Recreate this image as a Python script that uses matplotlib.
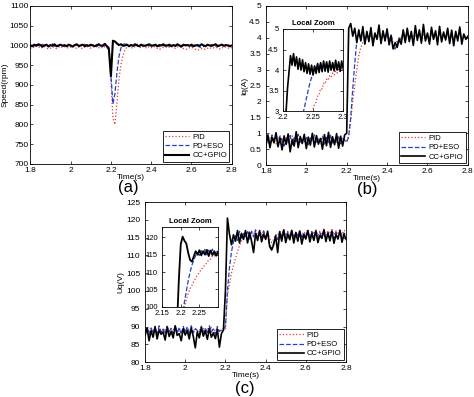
import numpy as np
import matplotlib
matplotlib.use('Agg')
import matplotlib.pyplot as plt
from matplotlib.ticker import FormatStrFormatter

plt.rcParams['font.family'] = ['Liberation Sans', 'DejaVu Sans']

# time grid of the main plots (s)
t = np.round(np.linspace(1.8, 2.8, 101), 2)

# (a) speed (rpm)
speed_pid = [994, 992, 996, 1000, 997, 993, 995, 998, 994, 991,
             993, 997, 995, 992, 996, 998, 994, 997, 995, 993,
             996, 999, 995, 993, 997, 994, 992, 996, 998, 995,
             993, 997, 995, 998, 994, 996, 993, 997, 995, 992,
             910, 815, 800, 855, 915, 952, 976, 989, 996, 998,
             995, 993, 997, 1000, 996, 994, 998, 995, 993, 997,
             994, 998, 996, 993, 990, 992, 995, 997, 994, 996,
             998, 995, 993, 997, 994, 996, 992, 990, 991, 994,
             996, 993, 990, 988, 989, 992, 991, 990, 993, 995,
             992, 994, 996, 993, 991, 995, 993, 996, 994, 992, 995]
speed_eso = [999, 1001, 997, 1002, 1000, 998, 1003, 999, 1001, 996,
             1000, 1004, 998, 1001, 997, 1003, 1000, 998, 1002, 999,
             1001, 998, 1000, 1002, 996, 1001, 999, 1003, 998, 1000,
             999, 1002, 1000, 997, 1001, 1000, 998, 1002, 999, 996,
             925, 852, 878, 932, 972, 994, 1003, 1004, 1001, 999,
             1002, 998, 1000, 1003, 999, 1001, 997, 1000, 1002, 998,
             1001, 999, 1003, 1000, 997, 1001, 999, 1002, 1000, 998,
             1000, 1003, 998, 1001, 1000, 996, 999, 1002, 1000, 1001,
             998, 1000, 1002, 999, 996, 995, 997, 1000, 1001, 999,
             1002, 1000, 998, 1001, 999, 1003, 1000, 998, 1001, 1000, 999]
speed_gpio = [1000, 998, 1002, 999, 1003, 1001, 997, 1000, 1002, 998,
              1001, 999, 1003, 998, 1000, 1002, 999, 1001, 998, 1002,
              1000, 997, 1001, 1003, 999, 1000, 1002, 998, 1001, 999,
              1002, 1000, 998, 1001, 1003, 999, 1000, 1004, 998, 990,
              922, 1012, 1010, 1005, 1001, 1003, 999, 1000, 1002, 998,
              1001, 999, 1003, 1000, 998, 1002, 1000, 999, 1001, 1003,
              999, 1000, 1002, 998, 1001, 1000, 1003, 999, 1000, 1002,
              998, 1001, 999, 1003, 1000, 998, 1002, 1000, 1001, 999,
              1002, 998, 1000, 1001, 999, 1003, 1000, 998, 1002, 1000,
              999, 1001, 1003, 998, 1000, 1002, 999, 1001, 1000, 998, 1000]

# (b) Iq (A)
iq_pid = [0.75, 0.68, 0.88, 0.72, 0.80, 0.66, 0.90, 0.74, 0.83, 0.70,
          0.86, 0.71, 0.79, 0.92, 0.68, 0.84, 0.73, 0.88, 0.76, 0.81,
          0.69, 0.87, 0.74, 0.82, 0.70, 0.91, 0.77, 0.80, 0.72, 0.85,
          0.78, 0.70, 0.89, 0.75, 0.83, 0.71, 0.86, 0.79, 0.74, 0.82,
          0.76, 0.90, 1.40, 2.00, 2.50, 3.00, 3.45, 3.70, 3.85, 3.95,
          4.02, 3.95, 4.10, 3.92, 4.15, 3.98, 4.08, 3.90, 4.12, 4.00,
          4.05, 3.93, 4.10, 3.85, 3.80, 3.90, 4.02, 3.96, 4.10, 3.94,
          4.08, 3.98, 4.12, 3.92, 4.06, 4.00, 4.14, 3.95, 4.10, 3.97,
          4.04, 3.93, 4.12, 3.98, 4.08, 3.94, 4.10, 3.96, 4.05, 4.00,
          4.10, 3.95, 4.06, 3.92, 4.08, 3.98, 4.12, 3.94, 4.04, 4.00, 4.02]
iq_eso = [0.70, 0.85, 0.62, 0.95, 0.75, 0.88, 0.66, 0.92, 0.78, 0.60,
          0.82, 0.70, 0.93, 0.65, 0.86, 0.74, 0.97, 0.68, 0.80, 0.72,
          0.90, 0.64, 0.85, 0.77, 0.95, 0.69, 0.83, 0.75, 0.91, 0.66,
          0.87, 0.73, 0.94, 0.70, 0.82, 0.76, 0.89, 0.67, 0.84, 0.78,
          0.72, 0.90, 1.50, 2.40, 3.20, 3.90, 4.10, 3.95, 4.20, 3.88,
          4.15, 3.92, 4.25, 3.85, 4.10, 4.00, 4.30, 3.90, 4.18, 3.95,
          4.22, 3.88, 4.12, 3.70, 3.65, 3.80, 4.00, 3.92, 4.20, 3.90,
          4.25, 3.95, 4.15, 3.85, 4.28, 3.97, 4.18, 3.90, 4.30, 3.93,
          4.12, 3.88, 4.26, 3.98, 4.16, 3.86, 4.28, 3.92, 4.14, 3.97,
          4.22, 3.90, 4.18, 3.84, 4.15, 3.95, 4.26, 3.88, 4.10, 3.98, 4.02]
iq_gpio = [0.62, 0.95, 0.55, 0.88, 0.70, 1.02, 0.58, 0.85, 0.48, 0.92,
           0.65, 0.98, 0.42, 0.80, 0.60, 1.05, 0.55, 0.90, 0.68, 0.97,
           0.52, 0.88, 0.63, 1.00, 0.57, 0.93, 0.66, 0.84, 0.50, 0.96,
           0.61, 1.03, 0.56, 0.89, 0.64, 0.99, 0.53, 0.91, 0.60, 0.95,
           1.00, 4.30, 4.45, 4.05, 4.30, 3.85, 4.25, 3.90, 4.35, 3.80,
           4.20, 3.88, 4.32, 3.75, 4.15, 3.95, 4.40, 3.82, 4.22, 3.90,
           4.28, 3.78, 4.05, 3.65, 3.85, 3.70, 3.95, 3.80, 4.25, 3.85,
           4.30, 3.88, 4.20, 3.76, 4.38, 3.92, 4.25, 3.83, 4.42, 3.90,
           4.15, 3.80, 4.33, 3.95, 4.22, 3.78, 4.36, 3.87, 4.18, 3.93,
           4.30, 3.82, 4.24, 3.75, 4.20, 3.90, 4.34, 3.80, 4.12, 3.95, 4.05]

# (b) local zoom, 2.2 .. 2.3 s
tb_zoom = np.linspace(2.2, 2.3, 41)
iqz_pid = [0.76, 0.80, 0.90, 1.05, 1.20, 1.38, 1.55, 1.70, 1.85, 2.00,
           2.13, 2.26, 2.38, 2.49, 2.58, 2.67, 2.75, 2.83, 2.90, 2.97,
           3.05, 3.18, 3.22, 3.38, 3.40, 3.55, 3.54, 3.68, 3.66, 3.78,
           3.75, 3.86, 3.82, 3.93, 3.88, 3.98, 3.93, 4.03, 3.97, 4.06, 4.00]
iqz_eso = [0.75, 0.80, 0.90, 1.05, 1.25, 1.50, 1.75, 2.00, 2.20, 2.40,
           2.55, 2.70, 2.82, 2.93, 3.05, 3.22, 3.38, 3.55, 3.70, 3.82,
           3.93, 4.10, 3.95, 4.15, 3.98, 4.18, 4.00, 4.16, 3.97, 4.20,
           4.02, 4.15, 3.98, 4.18, 4.00, 4.12, 3.99, 4.16, 4.02, 4.10, 4.04]
iqz_gpio = [1.20, 2.20, 2.95, 3.55, 3.95, 4.35, 4.12, 4.40, 4.10, 4.32,
            4.02, 4.28, 4.00, 4.25, 3.96, 4.18, 3.92, 4.15, 3.90, 4.12,
            3.88, 4.10, 3.92, 4.16, 3.94, 4.18, 3.96, 4.22, 3.98, 4.20,
            3.95, 4.22, 4.00, 4.18, 3.98, 4.24, 4.00, 4.20, 3.97, 4.22, 4.05]

# (c) Uq (V)
uq_pid = [88.0, 89.2, 88.6, 89.8, 87.9, 89.0, 88.4, 89.6, 88.1, 89.4,
          88.7, 89.9, 88.3, 89.1, 88.8, 89.7, 88.2, 89.5, 88.6, 89.0,
          88.4, 89.8, 88.9, 89.3, 88.0, 89.6, 88.5, 89.2, 88.8, 89.7,
          88.3, 89.5, 88.7, 89.9, 88.2, 89.4, 88.6, 89.1, 88.9, 89.3,
          89.0, 99.0, 102.0, 105.0, 107.2, 109.2, 111.0, 112.8, 114.0, 115.2,
          115.6, 116.8, 115.2, 116.4, 115.8, 117.0, 115.4, 116.6, 115.9, 116.9,
          115.3, 116.5, 114.8, 113.6, 114.5, 115.9, 115.5, 116.7, 115.8, 117.2,
          115.6, 116.8, 115.4, 117.0, 115.7, 116.5, 115.9, 117.1, 115.5, 116.7,
          115.8, 117.3, 115.4, 116.9, 116.0, 117.2, 115.6, 116.8, 115.9, 117.4,
          115.7, 117.0, 116.1, 117.3, 115.8, 116.9, 116.2, 117.5, 115.9, 117.1, 116.4]
uq_eso = [88.5, 90.0, 87.8, 89.6, 88.2, 89.8, 87.5, 90.2, 88.4, 89.3,
          87.9, 90.1, 88.6, 89.5, 88.0, 90.3, 88.2, 89.7, 87.8, 90.0,
          88.5, 89.9, 87.7, 90.2, 88.3, 89.4, 88.9, 87.9, 90.1, 88.4,
          89.6, 88.0, 90.2, 88.5, 89.3, 87.9, 90.0, 88.6, 89.1, 89.5,
          90.0, 100.0, 106.5, 111.0, 113.8, 115.5, 114.2, 116.8, 114.5, 116.5,
          115.0, 117.0, 114.6, 116.8, 115.2, 117.2, 114.4, 116.6, 115.0, 116.9,
          114.8, 116.2, 113.0, 112.0, 113.5, 115.6, 114.5, 116.8, 115.2, 117.0,
          114.9, 116.6, 115.0, 117.1, 114.6, 116.5, 115.3, 116.9, 114.7, 116.4,
          115.1, 117.0, 114.5, 116.7, 115.4, 116.8, 114.6, 116.4, 115.0, 117.2,
          114.8, 116.5, 115.2, 116.9, 114.7, 116.6, 115.0, 117.0, 114.9, 116.3, 115.5]
uq_gpio = [87.5, 89.5, 86.0, 88.8, 87.0, 90.0, 86.5, 89.0, 87.8, 88.5,
           86.2, 89.8, 87.2, 88.6, 86.8, 90.2, 87.5, 88.0, 86.0, 89.4,
           87.6, 88.9, 86.5, 89.6, 87.2, 84.0, 88.5, 86.8, 89.7, 87.3,
           88.8, 86.4, 89.5, 87.0, 88.2, 86.6, 89.2, 84.2, 88.0, 89.0,
           100.0, 120.5, 116.0, 113.0, 115.8, 114.0, 117.0, 113.5, 116.2, 114.5,
           117.0, 113.5, 116.5, 114.0, 110.8, 116.2, 114.2, 117.0, 113.8, 116.0,
           114.5, 116.8, 112.5, 111.5, 113.0, 115.5, 110.8, 116.6, 114.0, 117.2,
           113.6, 116.0, 114.4, 117.0, 113.5, 116.4, 114.0, 116.8, 113.2, 115.8,
           114.6, 117.0, 113.8, 116.2, 114.2, 116.9, 113.6, 115.6, 114.8, 117.1,
           113.9, 116.3, 114.1, 116.8, 113.4, 115.9, 114.6, 117.0, 113.7, 116.0, 114.5]

# (c) local zoom, 2.15 .. 2.3 s
tc_zoom = np.linspace(2.15, 2.3, 31)
uqz_pid = [88.2, 89.4, 88.6, 89.9, 88.1, 89.3, 88.7, 89.6, 88.9, 89.2,
           91.0, 96.0, 100.0, 102.0, 103.8, 105.2, 106.2, 107.4, 108.2, 109.3,
           109.8, 110.9, 111.2, 112.3, 112.5, 113.6, 113.7, 114.7, 114.6, 115.5, 115.2]
uqz_eso = [89.0, 89.8, 88.5, 90.0, 88.8, 89.6, 88.9, 90.1, 89.5, 89.8,
           92.0, 97.5, 101.5, 104.5, 107.5, 110.0, 112.0, 113.5, 114.8, 115.5,
           114.8, 116.2, 115.2, 116.5, 115.0, 116.3, 115.4, 116.6, 115.1, 116.2, 115.5]
uqz_gpio = [88.0, 89.2, 87.5, 88.8, 84.5, 89.0, 87.6, 88.5, 95.0, 108.0,
            118.0, 120.2, 119.0, 118.2, 115.5, 113.5, 113.0, 114.5, 116.0, 115.0,
            116.3, 114.8, 116.0, 115.0, 116.4, 114.6, 116.2, 114.9, 116.0, 114.7, 115.8]

RED = '#e23a3a'
BLUE = '#2343c4'
labels = ['PID', 'PD+ESO', 'CC+GPIO']


def draw(ax, x, pid, eso, gpio, lw_k=1.2):
    ax.plot(x, pid, color=RED, ls=':', lw=0.9, label=labels[0])
    ax.plot(x, eso, color=BLUE, ls='--', lw=0.9, label=labels[1])
    ax.plot(x, gpio, color='black', ls='-', lw=lw_k, label=labels[2])


def style(ax, xlim, ylim, xticks, yticks, fs=6, ypad=3.5, xpad=2):
    ax.set_xlim(xlim)
    ax.set_ylim(ylim)
    ax.set_xticks(xticks)
    ax.set_yticks(yticks)
    ax.xaxis.set_major_formatter(FormatStrFormatter('%g'))
    ax.yaxis.set_major_formatter(FormatStrFormatter('%g'))
    ax.tick_params(direction='in', labelsize=fs, length=2, width=0.5,
                   top=True, right=True)
    ax.tick_params(axis='x', pad=xpad)
    ax.tick_params(axis='y', pad=ypad)
    for s in ax.spines.values():
        s.set_linewidth(0.6)


def legend(ax):
    lg = ax.legend(loc='lower right', fontsize=5.5, handlelength=3.2, fancybox=False,
                   edgecolor='black', framealpha=1, borderpad=0.3, labelspacing=0.25,
                   handletextpad=0.4, borderaxespad=0.3)
    lg.get_frame().set_linewidth(0.6)


main_xt = [1.8, 2.0, 2.2, 2.4, 2.6, 2.8]

fig = plt.figure(figsize=(4.74, 3.97), dpi=100)

# (a)
ax1 = fig.add_axes([0.064, 0.587, 0.425, 0.398])
draw(ax1, t, speed_pid, speed_eso, speed_gpio, lw_k=1.5)
style(ax1, (1.8, 2.8), (700, 1100), main_xt, np.arange(700, 1101, 50), ypad=1.5)
ax1.set_xlabel('Time(s)', fontsize=6, labelpad=0)
ax1.set_ylabel('Speed(rpm)', fontsize=6, labelpad=0.5)
legend(ax1)
fig.text(0.27, 0.528, '(a)', fontsize=12, ha='center', va='center')

# (b)
ax2 = fig.add_axes([0.561, 0.584, 0.426, 0.401])
draw(ax2, t, iq_pid, iq_eso, iq_gpio)
style(ax2, (1.8, 2.8), (0, 5), main_xt, np.arange(0, 5.01, 0.5))
ax2.set_xlabel('Time(s)', fontsize=6, labelpad=0)
ax2.set_ylabel('Iq(A)', fontsize=6, labelpad=1)
legend(ax2)
fig.text(0.774, 0.522, '(b)', fontsize=12, ha='center', va='center')

axb = fig.add_axes([0.597, 0.720, 0.127, 0.207])
draw(axb, tb_zoom, iqz_pid, iqz_eso, iqz_gpio)
style(axb, (2.2, 2.3), (3, 5), [2.2, 2.25, 2.3], [3, 3.5, 4, 4.5, 5], fs=5.5, ypad=3)
axb.set_title('Local Zoom', fontsize=5.5, fontweight='bold', pad=3)

# (c)
ax3 = fig.add_axes([0.306, 0.088, 0.424, 0.403])
draw(ax3, t, uq_pid, uq_eso, uq_gpio)
style(ax3, (1.8, 2.8), (80, 125), main_xt, np.arange(80, 126, 5))
ax3.set_xlabel('Time(s)', fontsize=6, labelpad=0)
ax3.set_ylabel('Uq(V)', fontsize=6, labelpad=1)
legend(ax3)
fig.text(0.517, 0.022, '(c)', fontsize=12, ha='center', va='center')

axc = fig.add_axes([0.342, 0.227, 0.118, 0.2015])
draw(axc, tc_zoom, uqz_pid, uqz_eso, uqz_gpio, lw_k=1.3)
style(axc, (2.15, 2.3), (100, 123), [2.15, 2.2, 2.25], [100, 105, 110, 115, 120],
      fs=5.5, ypad=3)
axc.set_title('Local Zoom', fontsize=5.5, fontweight='bold', pad=3)

fig.savefig('out.png', dpi=100)
